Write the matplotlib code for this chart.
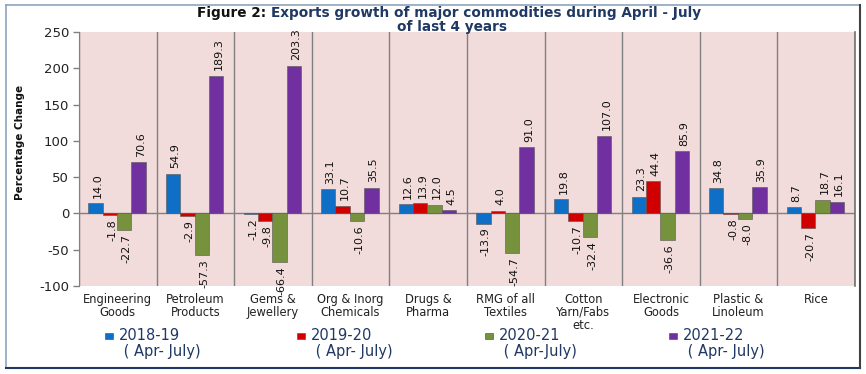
import numpy as np
import matplotlib.pyplot as plt
from matplotlib.patches import Rectangle
from matplotlib.lines import Line2D

categories = ['Engineering\nGoods', 'Petroleum\nProducts', 'Gems &\nJewellery',
              'Org & Inorg\nChemicals', 'Drugs &\nPharma', 'RMG of all\nTextiles',
              'Cotton\nYarn/Fabs\netc.', 'Electronic\nGoods', 'Plastic &\nLinoleum', 'Rice']
y2018 = [14.0, 54.9, -1.2, 33.1, 12.6, -13.9, 19.8, 23.3, 34.8, 8.7]
y2019 = [-1.8, -2.9, -9.8, 10.7, 13.9, 4.0, -10.7, 44.4, -0.8, -20.7]
y2020 = [-22.7, -57.3, -66.4, -10.6, 12.0, -54.7, -32.4, -36.6, -8.0, 18.7]
y2021 = [70.6, 189.3, 203.3, 35.5, 4.5, 91.0, 107.0, 85.9, 35.9, 16.1]
series_names = ['2018-19\n ( Apr- July)', '2019-20\n ( Apr- July)',
                '2020-21\n ( Apr-July)', '2021-22\n ( Apr- July)']
colors = ['#0F6FC6', '#D00000', '#76923C', '#7030A0']
yticks = [-100, -50, 0, 50, 100, 150, 200, 250]

W, H = 866, 374
fig = plt.figure(figsize=(W / 100, H / 100), dpi=100)
ax = fig.add_axes([79 / W, 1 - 286 / H, 776 / W, 254 / H])
ax.set_facecolor('#F2DCDB')

x = np.arange(len(categories))
width = 0.185
for i, vals in enumerate([y2018, y2019, y2020, y2021]):
    xs = x + (i - 1.5) * width - 0.01
    ax.bar(xs, vals, width, color=colors[i], edgecolor='#555555', linewidth=0.4, zorder=3)
    for xi, v in zip(xs, vals):
        ax.annotate('%.1f' % v, (xi + 0.03, v), xytext=(0, 4 if v >= 0 else -3),
                    textcoords='offset points', rotation=90, ha='center',
                    va='bottom' if v >= 0 else 'top', fontsize=8, color='#111111',
                    zorder=4)

ax.set_xlim(-0.5, len(categories) - 0.5)
ax.set_ylim(-100, 250)
ax.set_yticks(yticks)
ax.set_yticklabels([str(t) for t in yticks], fontsize=9.5, color='#222222')
ax.set_xticks(x)
ax.set_xticklabels(categories, fontsize=8.3, color='#222222', linespacing=1.0)
ax.tick_params(axis='x', length=0, pad=5)
ax.tick_params(axis='y', length=4, color='#808080', width=1, pad=3)
ax.set_xticks(np.arange(len(categories) + 1) - 0.5, minor=True)
ax.tick_params(axis='x', which='minor', length=0)
ax.grid(axis='x', which='minor', color='#808080', linewidth=1.0, zorder=1)
ax.axhline(0, color='#808080', linewidth=1.0, zorder=2)
for s in ['top', 'bottom']:
    ax.spines[s].set_visible(False)
ax.spines['left'].set_color('#808080')
ax.spines['right'].set_color('#707070')
ax.spines['right'].set_linewidth(1.2)

fig.text(20 / W, 1 - 142 / H, 'Percentage Change', rotation=90, ha='center', va='center',
         fontsize=7.5, fontweight='bold', color='#111111')

# title, two colours on the first line
t1 = fig.text(197 / W, 1 - 13 / H, 'Figure 2: ', ha='left', va='center',
              fontsize=9.8, fontweight='bold', color='#111111')
fig.canvas.draw()
bb = t1.get_window_extent(renderer=fig.canvas.get_renderer())
fig.text(bb.x1 / W, 1 - 13 / H, 'Exports growth of major commodities during April - July',
         ha='left', va='center', fontsize=9.8, fontweight='bold', color='#1F3864')
fig.text(452 / W, 1 - 27 / H, 'of last 4 years', ha='center', va='center',
         fontsize=9.8, fontweight='bold', color='#1F3864')

# legend
leg_x = [105, 297, 485, 669]
for lx, name, c in zip(leg_x, series_names, colors):
    fig.patches.append(Rectangle((lx / W, 1 - 339 / H), 8 / W, 6 / H, transform=fig.transFigure,
                                 facecolor=c, edgecolor='#444444', linewidth=0.4))
    fig.text((lx + 14) / W, 1 - 328 / H, name, ha='left', va='top', fontsize=10.5,
             color='#1F3864', linespacing=1.1)

# outer frame
fig.lines.append(Line2D([6 / W, 860 / W], [1 - 5 / H, 1 - 5 / H], transform=fig.transFigure,
                        color='#8FA4BF', linewidth=1.2))
fig.lines.append(Line2D([6 / W, 6 / W], [1 - 5 / H, 1 - 368 / H], transform=fig.transFigure,
                        color='#8FA4BF', linewidth=1.2))
fig.lines.append(Line2D([6 / W, 860 / W], [1 - 368 / H, 1 - 368 / H], transform=fig.transFigure,
                        color='#1F3864', linewidth=1.5))
fig.lines.append(Line2D([860 / W, 860 / W], [1 - 5 / H, 1 - 368 / H], transform=fig.transFigure,
                        color='#404040', linewidth=1.5))

fig.savefig('out.png', dpi=100)
